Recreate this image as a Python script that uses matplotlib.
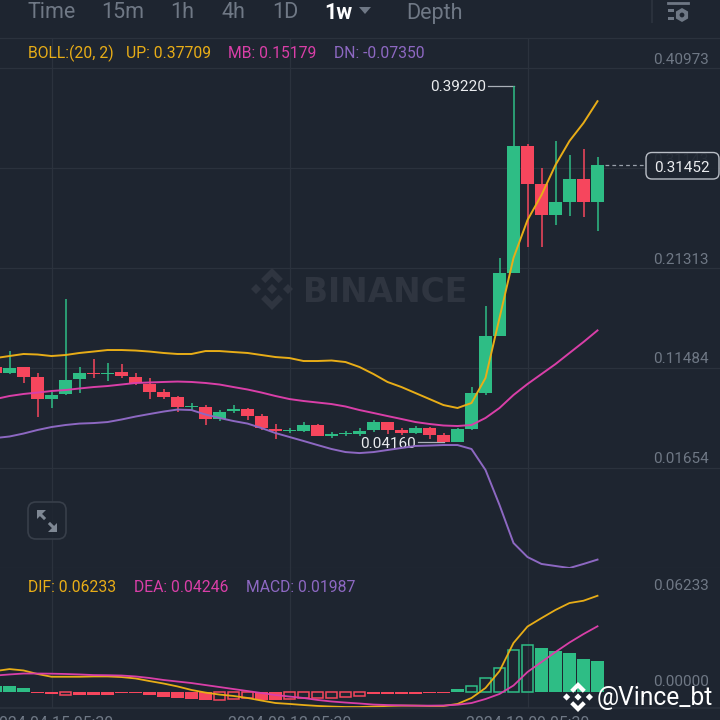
import matplotlib
matplotlib.use("Agg")
import matplotlib.pyplot as plt
from matplotlib.patches import FancyBboxPatch, Polygon, Circle, RegularPolygon

plt.rcParams['font.family'] = ['Roboto', 'DejaVu Sans']

# ---------- data ----------
dates = ["2024-04-15 05:30", "2024-08-12 05:30", "2024-12-09 05:30"]
date_positions = [4, 21, 38]
tabs = ["Time", "15m", "1h", "4h", "1D", "1w", "Depth"]
price_ticks = [0.40973, 0.31143, 0.21313, 0.11484, 0.01654, -0.08177]
price_labels = ["0.40973", "0.31143", "0.21313", "0.11484", "0.01654"]
macd_ticks = [0.06233, 0.0]
macd_labels = ["0.06233", "0.00000"]

opens = [.1158,.1099,.1158,.1060,.0843,.0893,.1040,.1099,.1089,.1109,.1060,.0991,.0912,.0863,.0765,.0765,.0647,.0725,.0745,.0676,.0548,.0529,
         .0529,.0588,.0480,.0499,.0499,.0539,.0617,.0539,.0509,.0558,.0489,.0421,.0548,.0902,.1463,.2082,.3330,.2957,.2652,.2780,.3006,.2780]
closes = [.1099,.1153,.1060,.0843,.0883,.1030,.1099,.1089,.1099,.1070,.1001,.0912,.0863,.0765,.0775,.0647,.0716,.0745,.0676,.0558,.0529,.0539,
          .0588,.0480,.0499,.0509,.0529,.0617,.0539,.0509,.0558,.0489,.0421,.0548,.0902,.1463,.2082,.3330,.2957,.2652,.2780,.3006,.2780,.3145]
highs = [.1178,.1315,.1158,.1099,.0912,.1826,.1158,.1237,.1197,.1187,.1099,.1050,.0942,.0873,.0804,.0784,.0735,.0789,.0755,.0696,.0598,.0558,
         .0617,.0593,.0519,.0529,.0558,.0637,.0622,.0558,.0578,.0568,.0509,.0558,.0961,.1758,.2230,.3922,.3350,.3114,.3380,.3242,.3301,.3222]
lows = [.1079,.1094,.1001,.0666,.0755,.0883,.0902,.1050,.1020,.1050,.0981,.0843,.0843,.0716,.0735,.0588,.0627,.0706,.0637,.0539,.0450,.0509,
        .0519,.0475,.0460,.0480,.0480,.0519,.0499,.0489,.0499,.0450,.0416,.0416,.0539,.0883,.1463,.2082,.2338,.2338,.2554,.2642,.2633,.2495]

boll_up = [.1246,.1266,.1286,.1281,.1266,.1276,.1296,.1310,.1325,.1325,.1320,.1310,.1296,.1286,.1286,.1315,.1315,.1305,.1296,.1276,.1256,.1246,
           .1217,.1217,.1222,.1207,.1158,.1089,.1011,.0961,.0902,.0843,.0784,.0755,.0804,.1050,.1640,.2230,.2603,.2849,.3144,.3380,.3557,.37709]
boll_mb = [.0843,.0873,.0893,.0907,.0922,.0932,.0947,.0961,.0971,.0986,.1001,.1006,.1011,.1015,.1011,.1001,.0986,.0961,.0937,.0907,.0873,.0843,
           .0824,.0809,.0794,.0770,.0735,.0706,.0676,.0647,.0617,.0598,.0583,.0578,.0588,.0657,.0755,.0883,.0991,.1089,.1187,.1296,.1404,.15179]
boll_dn = [.0460,.0475,.0504,.0539,.0568,.0588,.0602,.0607,.0617,.0642,.0671,.0696,.0720,.0740,.0735,.0691,.0657,.0627,.0602,.0558,.0509,.0470,
           .0431,.0391,.0352,.0322,.0312,.0322,.0342,.0362,.0382,.0386,.0391,.0391,.0352,.0146,-.0198,-.0572,-.0710,-.0778,-.0798,-.0818,-.0778,-.0735]

dif = [.0133,.0146,.0137,.0114,.0096,.0096,.0096,.0098,.0098,.0094,.0085,.0068,.0052,.0033,.0010,-.0007,-.0020,-.0029,-.0042,-.0059,-.0075,-.0081,
       -.0088,-.0094,-.0098,-.0101,-.0101,-.0098,-.0094,-.0092,-.0092,-.0094,-.0094,-.0081,-.0042,.0023,.0133,.0316,.0423,.0478,.0531,.0576,.0591,.06233]
dea = [.0104,.0111,.0117,.0117,.0116,.0114,.0111,.0107,.0106,.0104,.0098,.0088,.0075,.0065,.0055,.0042,.0029,.0016,.0003,-.0010,-.0023,-.0033,
       -.0042,-.0055,-.0065,-.0072,-.0078,-.0085,-.0088,-.0090,-.0092,-.0092,-.0091,-.0086,-.0075,-.0049,-.0016,.0039,.0127,.0192,.0257,.0319,.0374,.04246]
hist = [.0033,.0033,.0020,-.0010,-.0016,-.0021,-.0021,-.0021,-.0021,-.0010,-.0010,-.0022,-.0033,-.0043,-.0048,-.0056,-.0056,-.0052,-.0041,-.0054,-.0054,-.0050,
        -.0041,-.0043,-.0043,-.0037,-.0028,-.0015,-.0015,-.0015,-.0015,-.0010,-.0010,.0015,.0033,.0085,.0152,.0267,.0300,.0282,.0265,.0252,.0213,.01987]
hist_hollow = [0,0,0,0,0,1,0,0,0,0,0,0,0,0,0,0,1,1,1,0,0,1,
               1,1,1,1,1,0,0,0,0,0,0,0,1,1,1,1,1,0,0,0,0,0]

# ---------- styles ----------
BG = "#1e2530"
GRID = "#2b323d"
GREEN = "#2ebd85"
RED = "#f6465d"
YELLOW = "#e8ad17"
MAGENTA = "#d93fa8"
PURPLE = "#8d68c2"
MUTED = "#6f7885"
WHITE = "#eaecef"
MARK = "#2f3540"

fig = plt.figure(figsize=(7.2, 7.2), dpi=100, facecolor=BG)
W = 720.0
def rect(top, bottom):
    return [0, 1 - bottom / W, 1, (bottom - top) / W]

XMIN = 4.5 / 14
XMAX = XMIN + 720 / 14
ax = fig.add_axes(rect(38, 568), facecolor=BG)
mx = fig.add_axes(rect(568, 708), facecolor=BG)
ov = fig.add_axes([0, 0, 1, 1], facecolor="none", zorder=10)
ov.set_xlim(0, 720); ov.set_ylim(720, 0); ov.axis("off")

idx = list(range(len(opens)))

for a in (ax, mx):
    a.set_xlim(XMIN, XMAX)
    for s in a.spines.values():
        s.set_visible(False)
    a.set_xticks(date_positions)
    a.grid(True, color=GRID, lw=0.9, axis="both")
    a.set_axisbelow(True)
    a.tick_params(length=0)
    a.set_yticklabels([])


def logo(target, cx, cy, s, color, z=1):
    pts = [
        [(0, -1), (.52, -.48), (.32, -.28), (0, -.6), (-.32, -.28), (-.52, -.48)],
        [(0, 1), (.52, .48), (.32, .28), (0, .6), (-.32, .28), (-.52, .48)],
        [(-1, 0), (-.76, -.24), (-.52, 0), (-.76, .24)],
        [(1, 0), (.76, -.24), (.52, 0), (.76, .24)],
        [(0, -.24), (.24, 0), (0, .24), (-.24, 0)],
    ]
    for p in pts:
        target.add_patch(Polygon([(cx + s * a, cy + s * b) for a, b in p], fc=color, ec="none", zorder=z))

logo(ov, 272, 289, 21, MARK, z=0)
ov.text(385.5, 292, "BINANCE", color=MARK, fontsize=23.7, fontweight="bold", family="DejaVu Sans",
        ha="center", va="center", zorder=0)

# ---------- price panel ----------
ax.set_ylim(-0.08177, 0.43922)
ax.set_yticks(price_ticks)
ax.set_yticklabels([])
ax.set_xticklabels([])
for i, o, c, h, l in zip(idx, opens, closes, highs, lows):
    col = GREEN if c >= o else RED
    ax.vlines(i, l, h, color=col, lw=1.1, zorder=3)
    ax.bar(i, abs(c - o), bottom=min(o, c), width=0.89, color=col, lw=0, zorder=3)
ax.plot(idx, boll_up, color=YELLOW, lw=1.4, zorder=4)
ax.plot(idx, boll_mb, color=MAGENTA, lw=1.4, zorder=4)
ax.plot(idx, boll_dn, color=PURPLE, lw=1.4, zorder=4)

for v, s in zip(price_ticks, price_labels):
    ax.annotate(s, xy=(1, v), xycoords=("axes fraction", "data"), xytext=(-11, 8.5), textcoords="offset pixels",
                ha="right", va="center", color=MUTED, fontsize=11, zorder=1)

# high / low annotations
imax = highs.index(max(highs))
ax.annotate("0.39220", xy=(imax, max(highs)), xytext=(-27, -1.5), textcoords="offset pixels", ha="right", va="center",
            color=WHITE, fontsize=11)
ax.plot([imax - 1.85, imax], [max(highs), max(highs)], color="#aab0b8", lw=0.9, zorder=2)
imin = lows.index(min(lows))
ax.annotate("0.04160", xy=(imin, min(lows)), xytext=(-28, -1.5), textcoords="offset pixels", ha="right", va="center",
            color=WHITE, fontsize=11)
ax.plot([imin - 1.85, imin], [min(lows), min(lows)], color="#aab0b8", lw=0.9, zorder=2)

# current price
last = closes[-1]
ax.plot([idx[-1] + 0.55, XMIN + 645 / 14], [last, last], color="#9aa1ab", lw=0.9, ls=(0, (3, 2.5)), zorder=4)
ov.add_patch(FancyBboxPatch((649.5, 156), 66, 19.5, boxstyle="round,pad=3.5,rounding_size=6",
                            fc=(0.118, 0.145, 0.188, 0.88), ec="#b9bec6", lw=1.0))
ov.text(682, 167.5, "0.31452", color=WHITE, fontsize=11, ha="center", va="center")

# ---------- MACD panel ----------
mx.set_ylim(-0.01074, 0.0804)
mx.set_yticks([])
mx.set_xticklabels(dates, color=MUTED, fontsize=11.4)
mx.tick_params(axis="x", pad=5.5, length=0)
for i, v, hol in zip(idx, hist, hist_hollow):
    col = GREEN if v >= 0 else RED
    if hol:
        mx.bar(i, v, width=0.82, facecolor="none", edgecolor=col, lw=1.1, zorder=3)
    else:
        mx.bar(i, v, width=0.89, color=col, lw=0, zorder=3)
mx.plot(idx, dif, color=YELLOW, lw=1.3, zorder=4)
mx.plot(idx, dea, color=MAGENTA, lw=1.3, zorder=4)
for v, s in zip(macd_ticks, macd_labels):
    mx.annotate(s, xy=(1, v), xycoords=("axes fraction", "data"), xytext=(-11, 9.5), textcoords="offset pixels",
                ha="right", va="center", color=MUTED, fontsize=11)

# ---------- chrome ----------
ov.plot([0, 720], [38, 38], color=GRID, lw=0.9)
ov.plot([0, 720], [708, 708], color=GRID, lw=1.2)

tab_x = [27, 101, 170, 221, 272, 324, 406]
for t, x in zip(tabs, tab_x):
    act = t == "1w"
    ov.text(x, 13, t, color="#ffffff" if act else MUTED, fontsize=15.5, fontweight="bold" if act else "normal",
            ha="left", va="center")
ov.add_patch(Polygon([(359, 7), (371, 7), (365, 14)], fc=MUTED, ec="none"))
ov.plot([652, 652], [1, 22], color=GRID, lw=1.4)
ov.plot([668, 688], [3, 3], color=MUTED, lw=2)
ov.add_patch(Polygon([(668, 9), (674, 9), (674, 12), (668, 12)], fc=MUTED, ec="none"))
ov.add_patch(Polygon([(668, 17), (674, 17), (674, 20), (668, 20)], fc=MUTED, ec="none"))
ov.add_patch(RegularPolygon((682, 15), 6, radius=7, fc=MUTED, ec="none"))
ov.add_patch(Circle((682, 15), 2.4, fc=BG, ec="none"))

for s, x, c in [("BOLL:(20, 2)", 28, YELLOW), ("UP: 0.37709", 126, YELLOW),
                ("MB: 0.15179", 228, MAGENTA), ("DN: -0.07350", 334, PURPLE)]:
    ov.text(x, 53.5, s, color=c, fontsize=11.3, ha="left", va="center")
for s, x, c in [("DIF: 0.06233", 28, YELLOW), ("DEA: 0.04246", 134, MAGENTA), ("MACD: 0.01987", 246, PURPLE)]:
    ov.text(x, 587.5, s, color=c, fontsize=11.3, ha="left", va="center")

logo(ov, 578, 697, 15, "#ffffff", z=6)
ov.text(597, 698.5, "@Vince_bt", color="#ffffff", fontsize=17.7, ha="left", va="center", zorder=6)

# expand button
ov.add_patch(FancyBboxPatch((34, 508), 26, 25, boxstyle="round,pad=6,rounding_size=8",
                            fc=(0.118, 0.145, 0.188, 0.8), ec="#383f4a", lw=1.2))
BTN = "#7f8894"
ov.plot([39, 44], [513, 518], color=BTN, lw=2.2)
ov.plot([50, 55], [524, 529], color=BTN, lw=2.2)
ov.add_patch(Polygon([(37, 510), (46, 510), (37, 519)], fc=BTN, ec="none"))
ov.add_patch(Polygon([(57, 532), (48, 532), (57, 523)], fc=BTN, ec="none"))

fig.savefig("out.png", dpi=100, facecolor=BG)
